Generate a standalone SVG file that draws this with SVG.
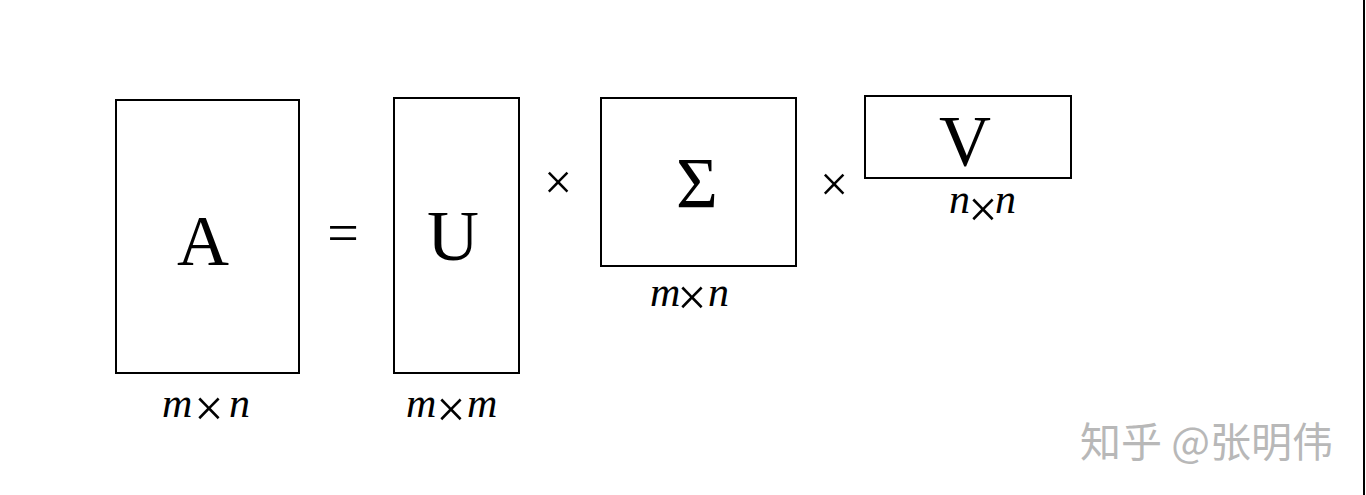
<svg xmlns="http://www.w3.org/2000/svg" width="1366" height="495" viewBox="0 0 1366 495">
<style>
.box{fill:#fff;stroke:#000;stroke-width:2}
.big{font-family:"Liberation Serif","Times New Roman",serif;font-size:72px;fill:#000;text-anchor:middle}
.op{font-family:"Liberation Serif","Times New Roman",serif;fill:#000;text-anchor:middle}
.dim{font-family:"Liberation Serif","Times New Roman",serif;font-size:42px;fill:#000;font-style:italic}
.x{font-family:"Liberation Serif","Times New Roman",serif;font-size:50px;fill:#000;text-anchor:middle}
.lx{font-family:"Liberation Serif","Times New Roman",serif;font-size:52px;fill:#000;text-anchor:middle}
.wm{font-family:"Noto Sans CJK SC","Noto Sans",sans-serif;font-size:41px;fill:#b8b8b8}
</style>
<rect width="1366" height="495" fill="#fff"/>
<g id="nodeA">
<rect class="box" x="116" y="100" width="183" height="273"/>
<text class="big" x="203" y="265">A</text>
<text class="dim" x="162" y="417">m</text>
<text class="lx" x="209" y="426">×</text>
<text class="dim" x="229" y="417">n</text>
</g>
<g id="nodeU">
<rect class="box" x="394" y="98" width="125" height="275"/>
<text class="big" x="453" y="260">U</text>
<text class="dim" x="406" y="417">m</text>
<text class="lx" x="451" y="427">×</text>
<text class="dim" x="467" y="417">m</text>
</g>
<g id="nodeSigma">
<rect class="box" x="601" y="98" width="195" height="168"/>
<text class="big" x="697" y="207" font-size="86">Σ</text>
<text class="dim" x="650" y="306">m</text>
<text class="lx" x="692" y="315">×</text>
<text class="dim" x="708" y="306">n</text>
</g>
<g id="nodeV">
<rect class="box" x="865" y="96" width="206" height="82"/>
<text class="big" x="965" y="165">V</text>
<text class="dim" x="949" y="213">n</text>
<text class="lx" x="983" y="227">×</text>
<text class="dim" x="995" y="213">n</text>
</g>
<g id="connectors">
<text class="op" x="343" y="252" font-size="56">=</text>
<text class="x" x="558" y="199">×</text>
<text class="x" x="834" y="201">×</text>
</g>
<g id="watermark">
<text class="wm" x="1080" y="457">知乎 @张明伟</text>
</g>
<line x1="1364" y1="0" x2="1364" y2="495" stroke="#000" stroke-width="2"/>
</svg>
